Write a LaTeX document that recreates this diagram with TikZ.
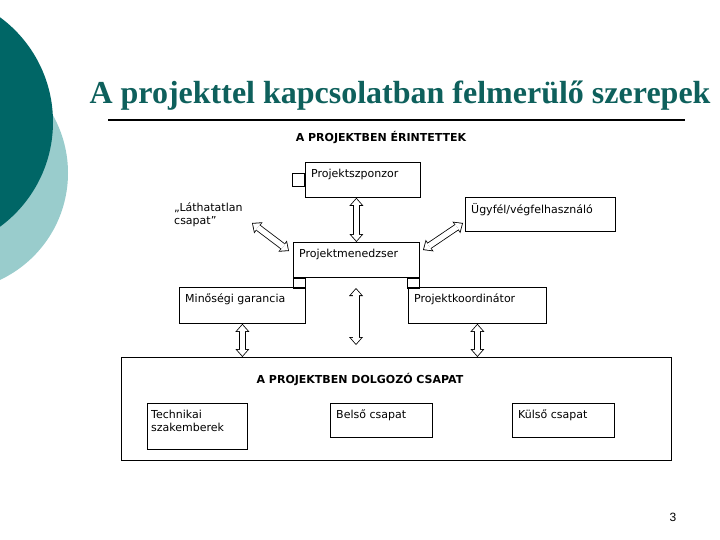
\documentclass[tikz,border=0pt]{standalone}
\usepackage{fontspec}
\setmainfont{Liberation Serif}
\newfontfamily\lblfont{DejaVu Sans}
\newfontfamily\numfont{Liberation Sans}
\usetikzlibrary{
  arrows.meta,
  positioning,
  calc
}
\definecolor{SlideTeal}{RGB}{0,102,102}
\definecolor{SlideMint}{RGB}{153,204,204}
\definecolor{TitleTeal}{RGB}{14,96,92}
\tikzset{
  rolebox/.style={
    draw=black,
    line width=0.8pt,
    anchor=north west,
    inner sep=0pt
  },
  rolelbl/.style={
    anchor=north west,
    inner xsep=6pt,
    inner ysep=6.5pt,
    align=left,
    font=\lblfont\fontsize{11}{13.5}\selectfont
  },
  stub/.style={draw=black,line width=0.8pt,inner sep=0pt,minimum width=12pt,minimum height=10pt},
  heading/.style={font=\lblfont\bfseries\fontsize{11}{13}\selectfont,inner sep=0pt},
  twoway/.style={
    draw=black,line width=7pt,
    {Triangle[length=8pt,width=14pt,line width=0pt]}-{Triangle[length=8pt,width=14pt,line width=0pt]},
    postaction={draw=white,line width=5.4pt,shorten <=1.22pt,shorten >=1.22pt,
      {Triangle[length=5.98pt,width=10.47pt,line width=0pt]}-{Triangle[length=5.98pt,width=10.47pt,line width=0pt]}}
  }
}

\begin{document}
\begin{tikzpicture}[x=1pt,y=-1pt]
  \useasboundingbox (0,0) rectangle (720,540);
  \begin{scope}
    \clip (0,0) rectangle (720,540);
    \fill[SlideMint] (-50,173) circle (118);
    \fill[SlideTeal] (-77,122) circle (130);
  \end{scope}

  \node[anchor=base,inner sep=0pt,text=TitleTeal,font=\bfseries\fontsize{32}{36}\selectfont] (title) at (400,104) {A projekttel kapcsolatban felmerülő szerepek};
  \draw[line width=1.6pt] (108,120) -- (685,120);

  \node[heading] (erintettek) at (381,138) {A PROJEKTBEN ÉRINTETTEK};

  \node[rolebox, minimum width=115pt, minimum height=35pt, label={[rolelbl]north west:Projektszponzor}] (sponzor) at (305,162) {};
  \node[stub, left=0pt of sponzor, minimum height=13pt] (sponzorstub) {};
  \node[rolelbl, inner xsep=0pt, inner ysep=0pt] (lathatatlan) at (174,202.5) {„Láthatatlan\\csapat”};
  \node[rolebox, minimum width=150pt, minimum height=34pt, label={[rolelbl]north west:Ügyfél/végfelhasználó}] (ugyfel) at (465,197) {};

  \node[rolebox, minimum width=126pt, minimum height=35pt, label={[rolelbl]north west:Projektmenedzser}] (menedzser) at (293,242) {};
  \node[stub, anchor=north west] (stubleft) at (menedzser.south west) {};
  \node[stub, anchor=north east] (stubright) at (menedzser.south east) {};
  \node[rolebox, minimum width=126pt, minimum height=36pt, label={[rolelbl]north west:Minőségi garancia}] (minoseg) at (179,287) {};
  \node[rolebox, minimum width=138pt, minimum height=36pt, label={[rolelbl]north west:Projektkoordinátor}] (koord) at (408,287) {};

  \node[rolebox, minimum width=550pt, minimum height=103pt] (team) at (121,357) {};
  \node[heading] (dolgozo) at (360,379) {A PROJEKTBEN DOLGOZÓ CSAPAT};
  \node[rolebox, minimum width=100pt, minimum height=46pt, label={[rolelbl,inner xsep=4pt]north west:Technikai\\szakemberek}] (technikai) at (147,403) {};
  \node[rolebox, minimum width=102pt, minimum height=34pt, label={[rolelbl]north west:Belső csapat}] (belso) at (330,403) {};
  \node[rolebox, minimum width=102pt, minimum height=34pt, label={[rolelbl]north west:Külső csapat}] (kulso) at (512,403) {};

  \node[inner sep=0pt,font=\numfont\fontsize{12}{14}\selectfont] (pagenum) at (673,517) {3};

  % two-way links
  \coordinate (lathA) at (252,223);
  \coordinate (lathB) at (289,251);
  \coordinate (ugyA) at (463,223);
  \coordinate (ugyB) at (423,250);
  \coordinate (midA) at (356,288);
  \coordinate (midB) at (356,345);
  \draw[twoway] (menedzser.north |- sponzor.south) -- (menedzser.north);
  \draw[twoway] (lathA) -- (lathB);
  \draw[twoway] (ugyA) -- (ugyB);
  \draw[twoway] (midA) -- (midB);
  \draw[twoway] (minoseg.south) -- (minoseg.south |- team.north);
  \draw[twoway] (koord.south) -- (koord.south |- team.north);
\end{tikzpicture}
\end{document}
